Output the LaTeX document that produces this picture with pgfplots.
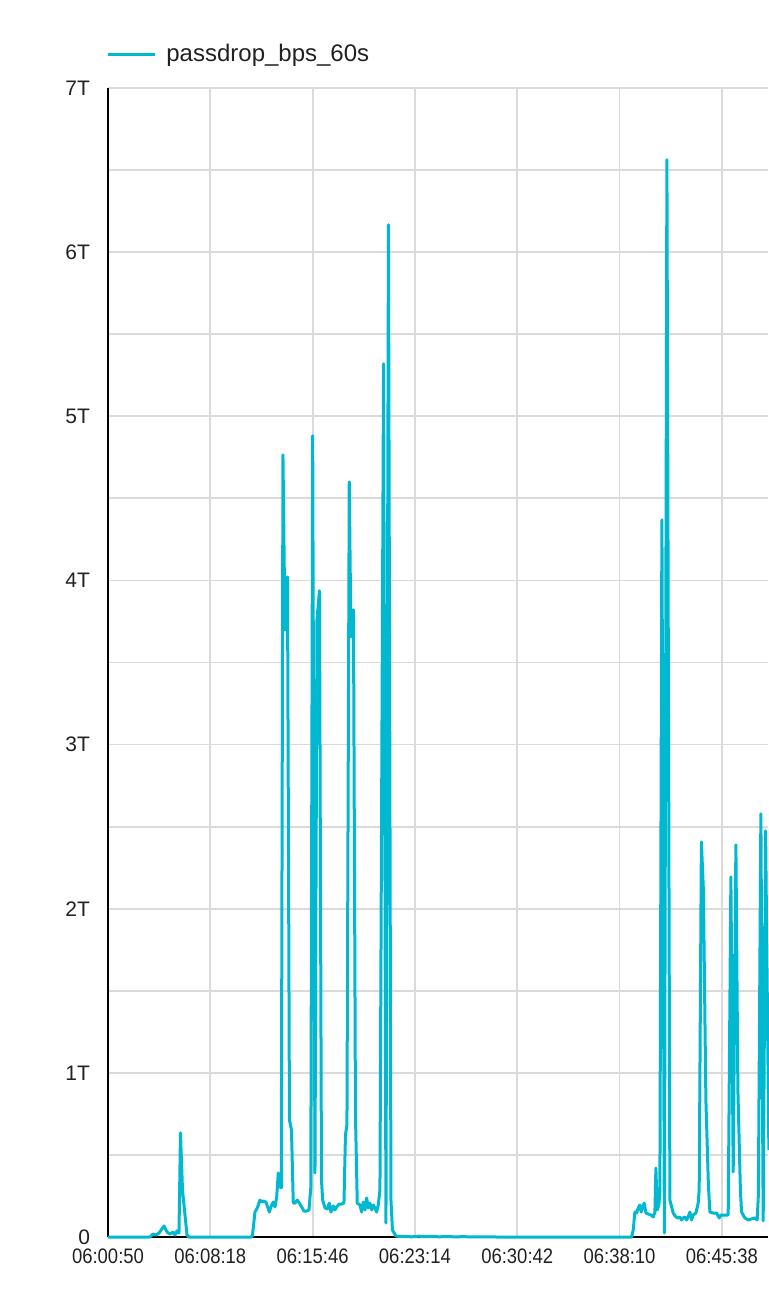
\documentclass[border=0pt]{standalone}
\usepackage{pgfplots}
\pgfplotsset{compat=1.18}
\usepackage{fontspec}
\setmainfont{Liberation Sans}
\newfontfamily\tickfont[FakeStretch=0.88]{Liberation Sans}
\definecolor{linecyan}{RGB}{0,184,208}
\definecolor{gridgray}{RGB}{218,218,218}
\definecolor{txt}{RGB}{33,33,33}
\begin{document}
\begin{tikzpicture}
\useasboundingbox (0,0) rectangle (384pt,657pt);
\begin{axis}[
  at={(54pt,38.5pt)}, anchor=south west,
  scale only axis, width=330pt, height=574.5pt,
  xmin=0, xmax=2890, ymin=0, ymax=7,
  clip=false,
  axis lines=left,
  axis line style={-, draw=black, line width=0.8pt},
  xtick={0,448,896,1344,1792,2240,2688},
  xticklabels={06:00:50,06:08:18,06:15:46,06:23:14,06:30:42,06:38:10,06:45:38},
  ytick={0,1,2,3,4,5,6,7},
  yticklabels={0,1T,2T,3T,4T,5T,6T,7T},
  minor ytick={0.5,1.5,2.5,3.5,4.5,5.5,6.5},
  grid=both,
  major grid style={draw=gridgray, line width=0.9pt},
  minor grid style={draw=gridgray, line width=0.9pt},
  major tick length=0pt, minor tick length=0pt,
  xticklabel style={font=\tickfont\fontsize{10.5}{12}\selectfont, text=txt, yshift=-2.5pt},
  yticklabel style={font=\fontsize{10.5}{12}\selectfont, text=txt, xshift=-5.5pt},
  /pgf/number format/assume math mode=true,
  legend style={at={(0,1)}, anchor=west, yshift=17pt, xshift=-1pt, draw=none, fill=none,
    inner sep=0pt, font=\fontsize{12}{14}\selectfont, text=txt,
    nodes={inner sep=0pt}, column sep=5pt},
  legend image code/.code={\draw[#1] (0pt,0pt) -- (23.5pt,0pt);},
]
\addplot[color=linecyan, line width=1.5pt, line join=round] coordinates {
(0,0) (183.9,0) (197.0,0.018) (210.1,0.012) (223.3,0.024) (245.2,0.067) (258.3,0.030)
(271.4,0.018) (284.6,0.030) (293.3,0.012) (302.1,0.037) (310.8,0.024) (317.4,0.634)
(326.2,0.286) (345.9,0.012) (354.6,0)
(626.1,0) (632.2,0.006) (643.6,0.152) (653.6,0.177) (665.5,0.225) (672.9,0.213)
(679.9,0.219) (691.7,0.213) (706.2,0.152) (716.7,0.195) (723.7,0.213) (731.1,0.183)
(738.6,0.244) (745.6,0.390) (753.0,0.305) (758.7,0.299) (766.1,4.765) (774.9,3.699)
(785.9,4.022) (794.6,0.713) (803.4,0.652) (811.3,0.207) (818.7,0.207) (828.8,0.225)
(837.5,0.207) (848.0,0.183) (858.1,0.158) (869.9,0.158) (880.0,0.165) (888.0,0.300)
(896.2,4.881) (906.3,0.390) (915.0,3.760) (926.0,3.937) (934.8,0.347) (940.0,0.225)
(950.1,0.177) (960.2,0.171) (968.9,0.207) (976.4,0.152) (986.4,0.189) (993.8,0.165)
(1001.3,0.183) (1012.6,0.201) (1023.1,0.201) (1033.2,0.207) (1039.8,0.622) (1046.3,0.683)
(1056.4,4.601) (1063.8,3.656) (1074.8,3.821) (1083.6,0.743) (1091.4,0.207) (1103.3,0.195)
(1110.7,0.152) (1117.7,0.213) (1125.2,0.165) (1132.6,0.238) (1139.6,0.177) (1147.0,0.207)
(1154.5,0.165) (1161.5,0.195) (1168.9,0.177) (1176.4,0.152) (1183.4,0.195) (1190.8,0.286)
(1206.6,5.320) (1217.1,0.085) (1228.0,6.167) (1239.0,0.225) (1245.5,0.043) (1260.9,0.006)
(1278.4,0.003) (1300,0.004) (1330,0.001) (1360,0.005) (1390,0.002) (1420,0.004)
(1450,0.001) (1480,0.003) (1520,0.001) (1560,0.002) (1600,0.0) (1650,0.001) (1700,0)
(2292.8,0) (2299.8,0.043) (2307.2,0.152) (2314.6,0.146) (2321.6,0.177) (2329.1,0.195)
(2334.8,0.152) (2340.9,0.183) (2347.9,0.207) (2355.4,0.146) (2365.5,0.140) (2377.3,0.134)
(2387.4,0.122) (2394.8,0.152) (2399.1,0.420) (2404.8,0.165) (2412.3,0.195) (2416.6,0.286)
(2425.4,4.369) (2436.3,0.024) (2447.3,6.563) (2460.4,0.225) (2474.9,0.146) (2486.7,0.122)
(2496.7,0.116) (2504.2,0.122) (2511.6,0.104) (2518.6,0.116) (2526.1,0.122) (2533.5,0.104)
(2540.5,0.122) (2548.0,0.152) (2555.4,0.104) (2562.4,0.134) (2574.3,0.146) (2584.3,0.207)
(2588.7,0.286) (2598.3,2.407) (2607.1,2.115) (2618.0,0.835) (2629.0,0.317) (2635.6,0.152)
(2650.0,0.146) (2664.9,0.146) (2676.3,0.116) (2683.7,0.134) (2693.8,0.134) (2715.7,0.134)
(2727.5,2.194) (2737.6,0.396) (2749.4,2.389) (2758.1,0.896) (2769.1,0.286) (2774.2,0.152)
(2788.7,0.116) (2803.2,0.104) (2818.0,0.110) (2832.5,0.116) (2842.6,0.104) (2847.8,0.256)
(2858.8,2.578) (2868.9,0.098) (2879.4,2.474) (2893.8,0.53)
};
\addlegendentry{passdrop\_bps\_60s}
\end{axis}
\end{tikzpicture}
\end{document}
